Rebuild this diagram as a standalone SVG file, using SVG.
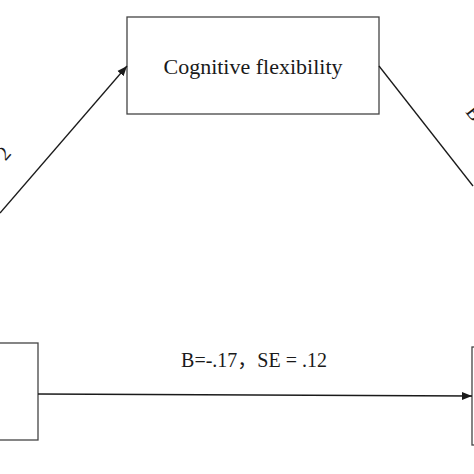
<svg xmlns="http://www.w3.org/2000/svg" width="474" height="474" viewBox="0 0 474 474">
<style>
.box{fill:#fff;stroke:#444;stroke-width:1.3}
.line{fill:none;stroke:#1a1a1a;stroke-width:1.3}
.t{font-family:"Liberation Serif","Noto Sans CJK SC",serif;fill:#1a1a1a}
</style>
<defs>
<marker id="ah" viewBox="0 0 10 10" refX="10" refY="5" markerWidth="10" markerHeight="10" markerUnits="userSpaceOnUse" orient="auto">
<path d="M0,1 L10,5 L0,9 z" fill="#1a1a1a"/>
</marker>
</defs>
<rect width="474" height="474" fill="#fff"/>
<g id="node-cognitive">
<rect class="box" x="127" y="17" width="252" height="97"/>
<text class="t" x="253" y="74" font-size="22" text-anchor="middle">Cognitive flexibility</text>
</g>
<g id="node-left">
<rect class="box" x="-10" y="343" width="48" height="97"/>
</g>
<g id="node-right">
<rect class="box" x="472" y="347" width="20" height="98"/>
</g>
<g id="connectors">
<line class="line" x1="0" y1="213" x2="127" y2="66" marker-end="url(#ah)"/>
<line class="line" x1="379" y1="66" x2="473" y2="186"/>
<line class="line" x1="38" y1="394" x2="472" y2="396" marker-end="url(#ah)"/>
<text class="t" font-size="20" transform="translate(12,154) rotate(-49)" text-anchor="end">2</text>
<text class="t" font-size="20" transform="translate(465,112) rotate(52)">B</text>
<text class="t" x="254" y="367" font-size="20" text-anchor="middle">B=-.17，SE = .12</text>
</g>
</svg>
